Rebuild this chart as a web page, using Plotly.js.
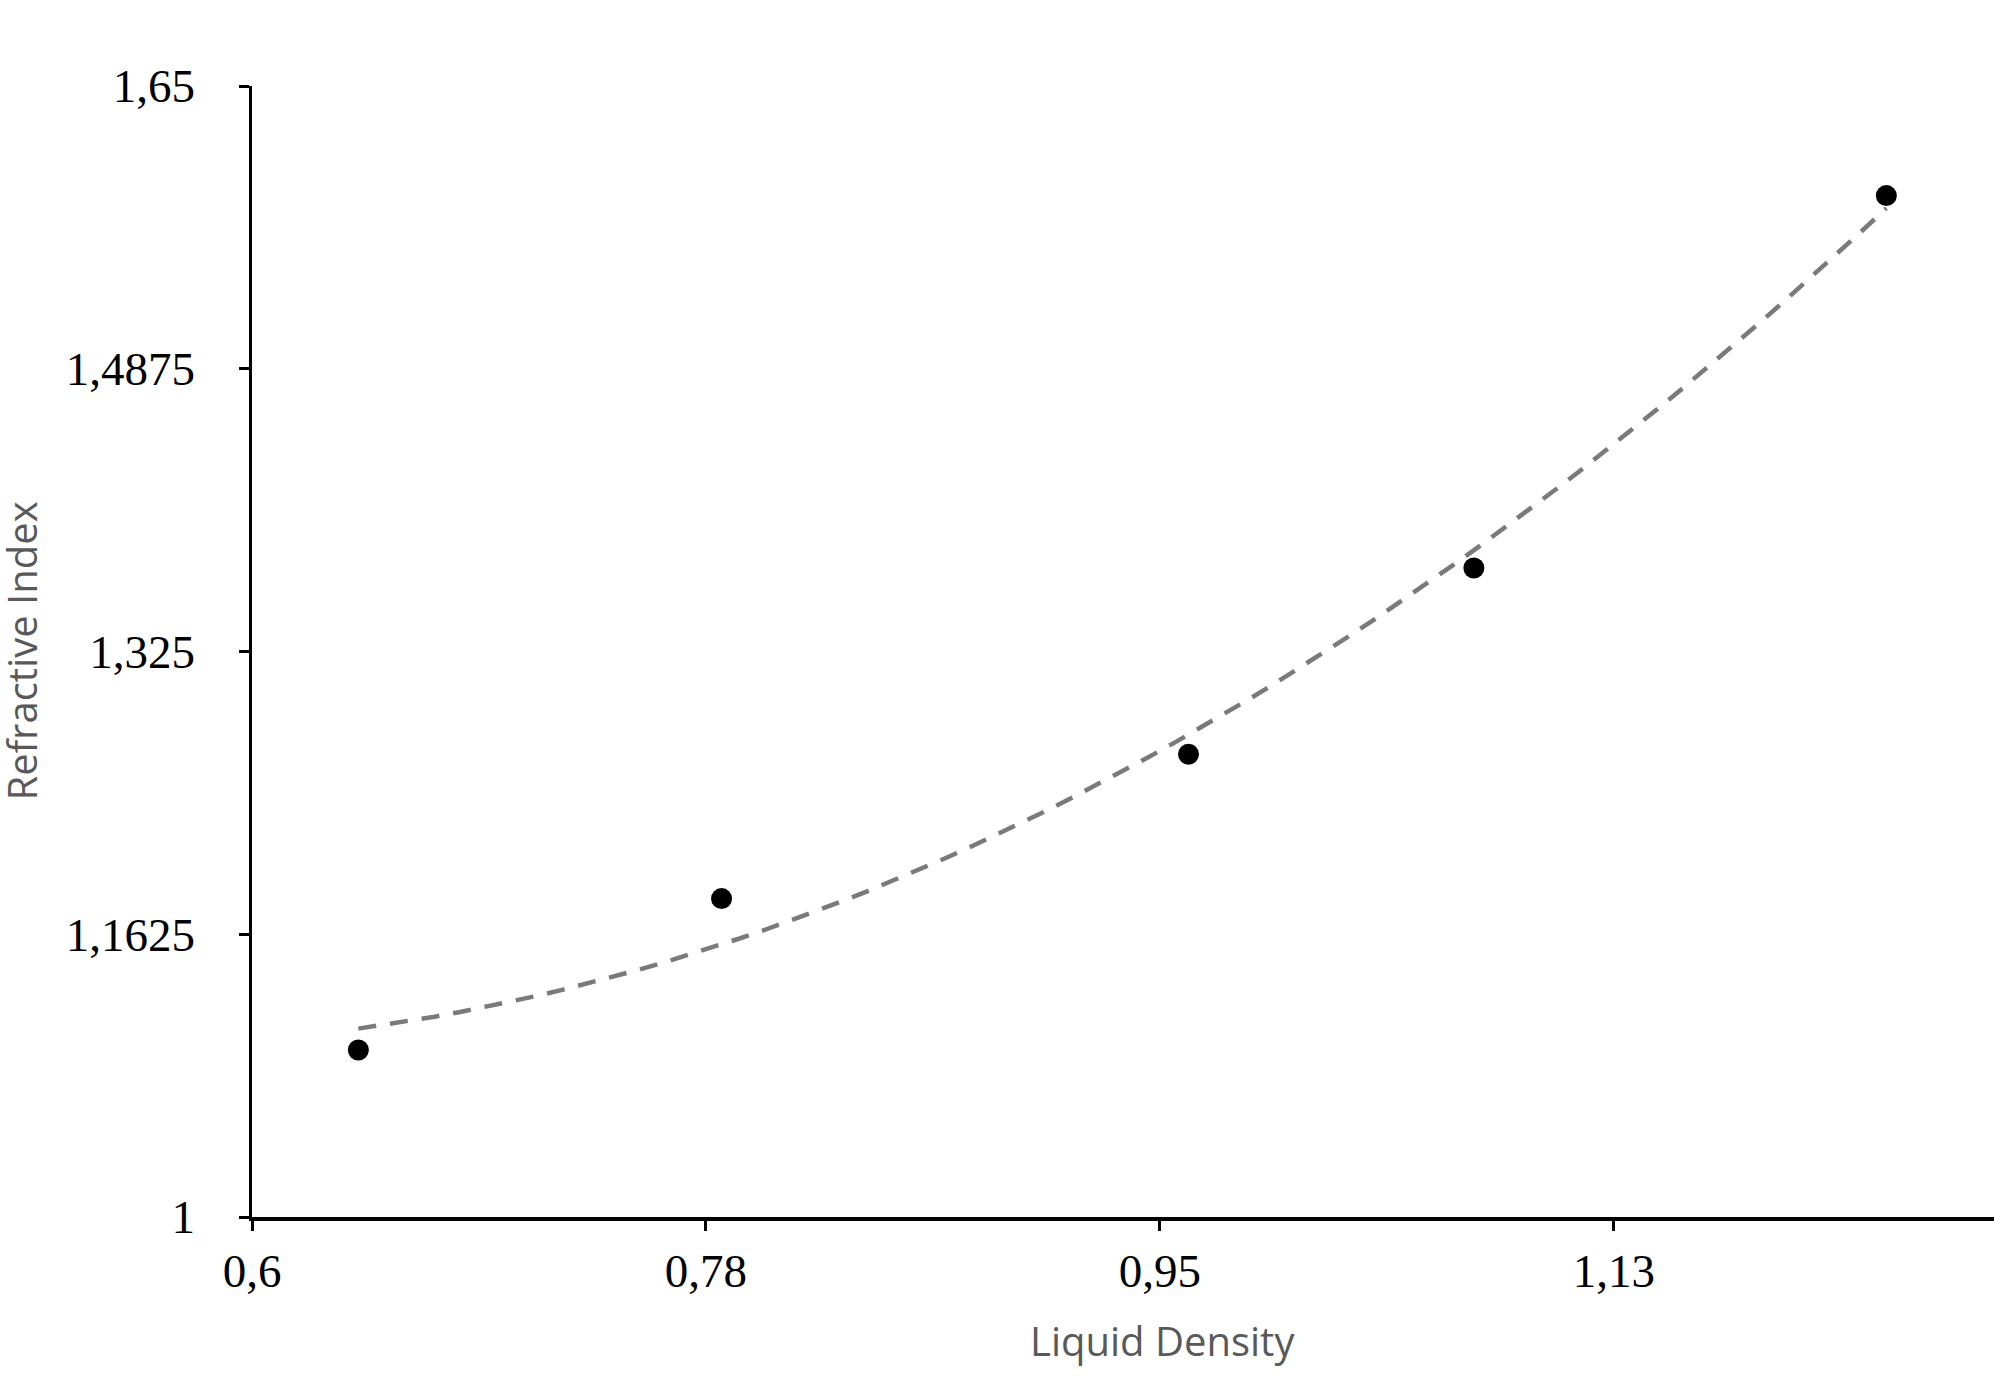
<!DOCTYPE html>
<html>
<head>
<meta charset="utf-8">
<script src="https://cdn.plot.ly/plotly-3.0.1.min.js"></script>
<style>html,body{margin:0;padding:0;background:#fff;}#chart{width:1994px;height:1381px;}</style>
</head>
<body>
<div id="chart"></div>
<script>
// Data
const density = [0.641, 0.781, 0.961, 1.071, 1.230];
const refractiveIndex = [1.096, 1.183, 1.266, 1.373, 1.587];

const xTickVals = [0.6, 0.775, 0.95, 1.125];
const xTickText = ['0,6', '0,78', '0,95', '1,13'];
const yTickVals = [1, 1.1625, 1.325, 1.4875, 1.65];
const yTickText = ['1', '1,1625', '1,325', '1,4875', '1,65'];

const xTitle = 'Liquid Density';
const yTitle = 'Refractive Index';

// Second-order polynomial trendline (least squares) from the data
function polyFit2(xs, ys) {
  let S = [0,0,0,0,0], T = [0,0,0];
  for (let i = 0; i < xs.length; i++) {
    let p = 1;
    for (let k = 0; k < 5; k++) { S[k] += p; if (k < 3) T[k] += p * ys[i]; p *= xs[i]; }
  }
  const A = [[S[0],S[1],S[2],T[0]],[S[1],S[2],S[3],T[1]],[S[2],S[3],S[4],T[2]]];
  for (let c = 0; c < 3; c++) {
    for (let r = c + 1; r < 3; r++) {
      const f = A[r][c] / A[c][c];
      for (let k = c; k < 4; k++) A[r][k] -= f * A[c][k];
    }
  }
  const coef = [0,0,0];
  for (let r = 2; r >= 0; r--) {
    let s = A[r][3];
    for (let k = r + 1; k < 3; k++) s -= A[r][k] * coef[k];
    coef[r] = s / A[r][r];
  }
  return coef;
}
const cf = polyFit2(density, refractiveIndex);
const xMin = Math.min(...density), xMax = Math.max(...density);
const trendX = [], trendY = [];
for (let i = 0; i <= 60; i++) {
  const x = xMin + (xMax - xMin) * i / 60;
  trendX.push(x);
  trendY.push(cf[0] + cf[1] * x + cf[2] * x * x);
}

const traces = [
  {
    x: trendX, y: trendY, type: 'scatter', mode: 'lines',
    line: {color: '#7a7a7a', width: 4.5, dash: '18px,14px'},
    hoverinfo: 'skip', showlegend: false
  },
  {
    x: density, y: refractiveIndex, type: 'scatter', mode: 'markers',
    marker: {color: '#000000', size: 21}, showlegend: false
  }
];

const W = 1994, H = 1381;
const L = 252, R = 0, T = 86, B = 164;

const layout = {
  width: W, height: H,
  paper_bgcolor: '#ffffff', plot_bgcolor: '#ffffff',
  margin: {l: L, r: R, t: T, b: B, pad: 0},
  showlegend: false,
  xaxis: {
    range: [0.6, 1.2715],
    tickvals: xTickVals, ticktext: xTickText,
    showgrid: false, zeroline: false,
    showline: true, linecolor: '#000', linewidth: 3.5,
    ticks: 'outside', ticklen: 10, tickwidth: 3, tickcolor: '#000',
    ticklabelstandoff: 0,
    tickfont: {family: 'Liberation Serif, Times New Roman, serif', size: 47, color: '#000'}
  },
  yaxis: {
    range: [1, 1.65],
    tickvals: yTickVals, ticktext: yTickText,
    showgrid: false, zeroline: false,
    showline: true, linecolor: '#000', linewidth: 3.5,
    ticks: 'outside', ticklen: 10, tickwidth: 3, tickcolor: '#000',
    ticklabelstandoff: 34,
    tickfont: {family: 'Liberation Serif, Times New Roman, serif', size: 47, color: '#000'}
  },
  annotations: [
    {
      text: xTitle, xref: 'paper', yref: 'paper',
      x: (1162 - L) / (W - L - R), y: -(1340 - (H - B)) / (H - T - B),
      xanchor: 'center', yanchor: 'middle', showarrow: false,
      font: {family: 'Open Sans, Noto Sans, sans-serif', size: 40, color: '#595959'}
    },
    {
      text: yTitle, xref: 'paper', yref: 'paper', textangle: -90,
      x: -(L - 21) / (W - L - R), y: 0.5,
      xanchor: 'center', yanchor: 'middle', showarrow: false,
      font: {family: 'Open Sans, Noto Sans, sans-serif', size: 40, color: '#595959'}
    }
  ]
};

Plotly.newPlot('chart', traces, layout, {displayModeBar: false, staticPlot: true});
</script>
</body>
</html>
